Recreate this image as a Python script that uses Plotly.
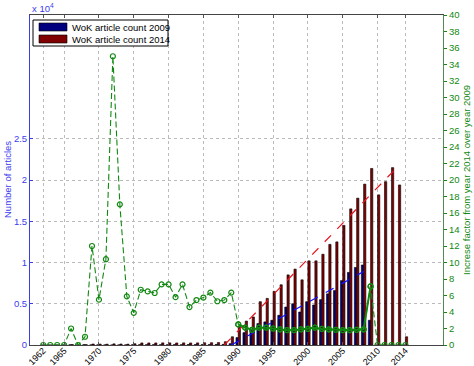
import plotly.graph_objects as go

years = list(range(1962, 2015))

# WoK article count (number of articles) as recorded in 2014 and in 2009
count_2014 = [0, 0, 0, 0, 60, 0, 40, 120, 110, 100, 140, 120, 100, 150,
              250, 250, 250, 260, 260, 250, 260, 250, 260, 270, 280, 300,
              400, 1000,
              2300, 2900, 3400, 5250, 5650, 6500, 7300, 8500, 9200, 7900,
              10200, 10200, 11000, 12200, 12500, 14500, 16500, 17800, 19500,
              21400, 18200, 19800, 21500, 19400, 1000]
count_2009 = [0, 0, 0, 0, 30, 0, 40, 10, 20, 10, 4, 7, 17, 38,
              37, 38, 40, 35, 34, 43, 35, 54, 48, 47, 44, 57,
              73, 160,
              900, 1500, 1900, 2600, 2800, 3000, 3600, 4600, 5000, 4000,
              5250, 4850, 5500, 6200, 6600, 7800, 8800, 9400, 9700,
              3000, 0, 0, 0, 0, 0]

# Increase factor (2014 count / 2009 count)
factor_all = [0, 0, 0, 0, 2.0, 0, 1.0, 12.0, 5.5, 10.4, 35.0, 17.05, 5.9, 3.9,
              6.7, 6.5, 6.3, 7.35, 7.35, 5.8, 7.35, 4.6, 5.45, 5.75, 6.35, 5.3,
              5.45, 6.35,
              2.5, 2.1, 1.85, 2.1, 2.1, 2.0, 1.9, 1.8, 1.8, 1.9,
              1.95, 2.1, 1.95, 1.9, 1.85, 1.8, 1.8, 1.85, 1.9,
              7.1, 0, 0, 0, 0, 0]
factor_years_main = list(range(1990, 2010))
factor_main = [2.5, 2.1, 1.85, 2.1, 2.1, 2.0, 1.9, 1.8, 1.8, 1.9,
               1.95, 2.1, 1.95, 1.9, 1.85, 1.8, 1.8, 1.85, 1.9, 7.1]

# Linear trend lines (end points)
trend2014_years = [1988, 2013]
trend2014_vals = [0, 21700]
trend2009_years = [1989, 2008]
trend2009_vals = [0, 8900]

x_ticks = [1962, 1965, 1970, 1975, 1980, 1985, 1990, 1995, 2000, 2005, 2010, 2014]
y_ticks = [0, 5000, 10000, 15000, 20000, 25000]
y_ticktext = ["0", "0.5", "1", "1.5", "2", "2.5"]
y2_ticks = list(range(0, 41, 2))

legend_names = ["WoK article count 2009", "WoK article count 2014"]
BAR_COLORS = ["#00007f", "#7f0000"]
BLUE_AX = "#3b3bf0"
GREEN = "#118811"
FONT = "Liberation Sans, Arial, Helvetica, sans-serif"

W, H = 474, 366
ML, MR, MT, MB = 30, 31, 15, 21
PW, PH = W - ML - MR, H - MT - MB


def px(x):
    return (x - ML) / PW


def py(y):
    return (H - MB - y) / PH


fig = go.Figure()
fig.add_trace(go.Bar(x=years, y=count_2009, name=legend_names[0], showlegend=False,
                     marker=dict(color=BAR_COLORS[0], line=dict(color="black", width=0.6))))
fig.add_trace(go.Bar(x=years, y=count_2014, name=legend_names[1], showlegend=False,
                     marker=dict(color=BAR_COLORS[1], line=dict(color="black", width=0.6))))
fig.add_trace(go.Scatter(x=trend2014_years, y=trend2014_vals, mode="lines",
                         line=dict(color="#e8141e", dash="dash", width=1.2), showlegend=False))
fig.add_trace(go.Scatter(x=trend2009_years, y=trend2009_vals, mode="lines",
                         line=dict(color="#1010ff", dash="dash", width=1.2), showlegend=False))
fig.add_trace(go.Scatter(x=years, y=factor_all, mode="lines+markers", yaxis="y2",
                         line=dict(color=GREEN, dash="6px,3px", width=1.1),
                         marker=dict(symbol="circle-open", size=5, color=GREEN, line=dict(width=1.2)),
                         showlegend=False))
fig.add_trace(go.Scatter(x=factor_years_main, y=factor_main, mode="lines+markers", yaxis="y2",
                         line=dict(color=GREEN, width=2),
                         marker=dict(symbol="circle-open", size=5, color=GREEN, line=dict(width=1.2)),
                         showlegend=False))

# hand-drawn legend box (matching the compact MATLAB legend)
shapes = [dict(type="rect", xref="paper", yref="paper",
               x0=px(33), x1=px(168), y0=py(46), y1=py(20),
               line=dict(color="black", width=1), fillcolor="white", layer="above")]
annos = []
for i, (name, col) in enumerate(zip(legend_names, BAR_COLORS)):
    yc = 27 + 12 * i
    shapes.append(dict(type="rect", xref="paper", yref="paper",
                       x0=px(39), x1=px(67), y0=py(yc + 4), y1=py(yc - 4),
                       line=dict(color="black", width=0.6), fillcolor=col, layer="above"))
    annos.append(dict(text=name, xref="paper", yref="paper", x=px(70), y=py(yc),
                      xanchor="left", yanchor="middle", showarrow=False,
                      font=dict(size=9.5, color="black")))

annos += [
    dict(text="x 10<sup>4</sup>", xref="paper", yref="paper",
         x=0, y=1, xanchor="left", yanchor="bottom", showarrow=False,
         font=dict(color=BLUE_AX, size=9.5), yshift=-1),
    dict(text="Number of articles", xref="paper", yref="paper",
         x=px(7), y=0.5, xanchor="center", yanchor="middle", textangle=-90,
         showarrow=False, font=dict(color=BLUE_AX, size=9.5)),
    dict(text="Increse factor from year 2014 over year 2009", xref="paper", yref="paper",
         x=px(466), y=0.5, xanchor="center", yanchor="middle", textangle=-90,
         showarrow=False, font=dict(color=GREEN, size=9.5)),
]

fig.update_layout(
    width=W, height=H,
    margin=dict(l=ML, r=MR, t=MT, b=MB, autoexpand=False),
    paper_bgcolor="white", plot_bgcolor="white",
    font=dict(family=FONT, size=9.5, color="black"),
    showlegend=False,
    barmode="group", bargap=0.35, bargroupgap=0,
    xaxis=dict(range=[1960.1, 2019.4], tickvals=x_ticks, tickangle=-45,
               ticks="inside", ticklen=3, tickcolor="#555", automargin=False,
               showline=True, linecolor="#444", linewidth=1, mirror="ticks",
               showgrid=True, gridcolor="#bbbbbb", griddash="dot", gridwidth=1,
               zeroline=False, tickfont=dict(size=9), ticklabelstandoff=-4),
    yaxis=dict(range=[0, 40000], tickvals=y_ticks, ticktext=y_ticktext,
               ticks="inside", ticklen=3, tickcolor=BLUE_AX, automargin=False,
               showline=True, linecolor=BLUE_AX, linewidth=1,
               showgrid=True, gridcolor="#bbbbbb", griddash="dot", gridwidth=1,
               zeroline=False, tickfont=dict(color=BLUE_AX, size=9.5)),
    yaxis2=dict(range=[0, 40], tickvals=y2_ticks, overlaying="y", side="right",
                ticks="outside", ticklen=3, tickcolor=GREEN, automargin=False,
                showline=True, linecolor="#558855", linewidth=1,
                showgrid=False, zeroline=False, tickfont=dict(color=GREEN, size=9.5)),
    shapes=shapes,
    annotations=annos,
)

fig.write_html("out.html", config={"displayModeBar": False},
               post_script="document.body.style.margin='0';document.body.style.overflow='hidden';")
